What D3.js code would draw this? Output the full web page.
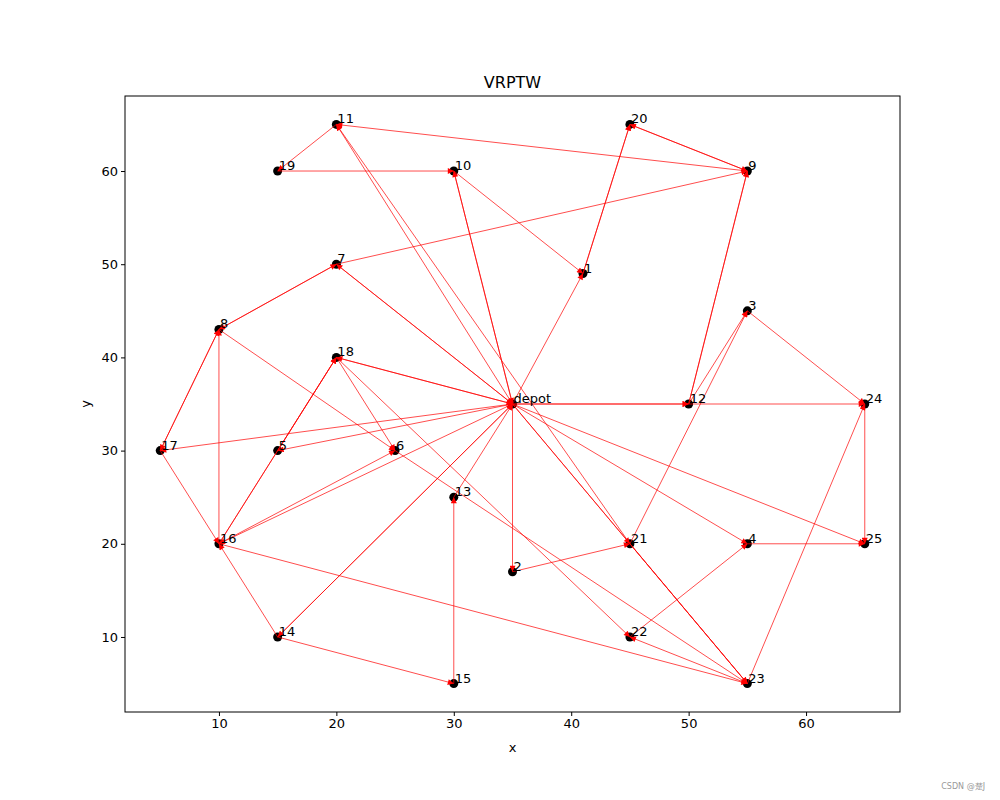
<!DOCTYPE html>
<html><head><meta charset="utf-8">
<script src="https://cdn.jsdelivr.net/npm/d3@7"></script>
<style>body{margin:0;background:#fff}text{font-family:"DejaVu Sans",sans-serif}</style>
</head><body>
<svg id="c" width="1000" height="800"></svg>
<script>
var names = ["depot","1","2","3","4","5","6","7","8","9","10","11","12","13","14","15","16","17","18","19","20","21","22","23","24","25"];
var xs = [35,41,35,55,55,15,25,20,10,55,30,20,50,30,15,30,10,5,20,15,45,45,45,55,65,65];
var ys = [35,49,17,45,20,30,30,50,43,60,60,65,35,25,10,5,20,30,40,60,65,20,10,5,35,20];
var edges = [
 ["depot","1"],["1","20"],["20","9"],["9","11"],["11","19"],["19","10"],["10","1"],["1","20"],["9","20"],
 ["12","9"],["12","9"],["depot","12"],["depot","12"],["12","3"],["3","24"],["12","24"],["24","25"],
 ["4","25"],["depot","4"],["depot","25"],["22","4"],["23","22"],["23","24"],["21","23"],["depot","23"],
 ["depot","2"],["2","21"],["21","3"],["21","11"],["depot","11"],["10","depot"],["depot","10"],
 ["depot","7"],["7","depot"],["7","9"],["8","7"],["7","8"],["8","17"],["17","8"],["17","16"],["16","8"],
 ["8","6"],["16","18"],["16","18"],["5","18"],["18","depot"],["depot","18"],["18","6"],["18","22"],["6","23"],
 ["depot","16"],["16","6"],["14","depot"],["depot","14"],["14","15"],["15","13"],["13","depot"],["14","16"],
 ["16","23"],["depot","17"],["depot","5"],["depot","21"],["21","23"]
];

var svg = d3.select("#c");
var L = 125, R = 900, T = 96, B = 712;
var x = d3.scaleLinear().domain([2, 68]).range([L, R]);
var y = d3.scaleLinear().domain([1.95, 68.05]).range([B, T]);
var idx = {}; names.forEach(function(n, i){ idx[n] = i; });

svg.append("defs").append("marker").attr("id","ah")
  .attr("viewBox","0 0 10 10").attr("refX",10).attr("refY",5)
  .attr("markerUnits","userSpaceOnUse").attr("markerWidth",8).attr("markerHeight",6)
  .attr("orient","auto")
  .append("path").attr("d","M0,0L10,5L0,10z").attr("fill","red");

svg.append("g").attr("transform","translate(0,"+B+")")
  .call(d3.axisBottom(x).tickValues([10,20,30,40,50,60]).tickSizeOuter(0).tickSize(4));
svg.append("g").attr("transform","translate("+L+",0)")
  .call(d3.axisLeft(y).tickValues([10,20,30,40,50,60]).tickSizeOuter(0).tickSize(4));
svg.selectAll(".tick text").attr("font-size",13).attr("font-family","DejaVu Sans");
svg.selectAll(".domain").remove();
svg.append("rect").attr("x",L).attr("y",T).attr("width",R-L).attr("height",B-T)
  .attr("fill","none").attr("stroke","#000");

svg.selectAll("circle").data(names).enter().append("circle")
  .attr("cx",function(d,i){return x(xs[i]);}).attr("cy",function(d,i){return y(ys[i]);})
  .attr("r",4.5).attr("fill","#000");

svg.selectAll("line.e").data(edges).enter().append("line").attr("class","e")
  .attr("x1",function(d){return x(xs[idx[d[0]]]);}).attr("y1",function(d){return y(ys[idx[d[0]]]);})
  .attr("x2",function(d){return x(xs[idx[d[1]]]);}).attr("y2",function(d){return y(ys[idx[d[1]]]);})
  .attr("stroke","red").attr("stroke-width",0.7).attr("marker-end","url(#ah)");

svg.selectAll("text.lab").data(names).enter().append("text").attr("class","lab")
  .attr("x",function(d,i){return x(xs[i])+1;}).attr("y",function(d,i){return y(ys[i])-1;})
  .attr("font-size",13).text(function(d){return d;});

svg.append("text").attr("x",(L+R)/2).attr("y",88).attr("text-anchor","middle").attr("font-size",16).text("VRPTW");
svg.append("text").attr("x",(L+R)/2).attr("y",752).attr("text-anchor","middle").attr("font-size",13).text("x");
svg.append("text").attr("transform","translate(90,"+((T+B)/2)+") rotate(-90)").attr("text-anchor","middle").attr("font-size",13).text("y");
svg.append("text").attr("x",985).attr("y",789).attr("text-anchor","end").attr("font-size",8).attr("fill","#999").text("CSDN @楚J");
</script>
</body></html>
